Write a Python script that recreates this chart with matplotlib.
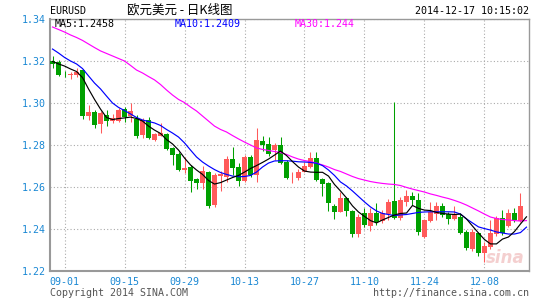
import matplotlib.pyplot as plt
import numpy as np
import pandas as pd

# EURUSD daily candles, 2014-08-28 .. 2014-12-17
opens = [1.3200, 1.3195, 1.3138, 1.3132, 1.3133, 1.3157, 1.2940, 1.2957, 1.2900, 1.2943,
         1.2916, 1.2916, 1.2970, 1.2940, 1.2924, 1.2848, 1.2919, 1.2824, 1.2844, 1.2852,
         1.2787, 1.2757, 1.2681, 1.2697, 1.2637, 1.2620, 1.2673, 1.2514, 1.2654, 1.2649,
         1.2733, 1.2694, 1.2629, 1.2743, 1.2657, 1.2819, 1.2803, 1.2776, 1.2800, 1.2720,
         1.2648, 1.2644, 1.2673, 1.2697, 1.2740, 1.2638, 1.2618, 1.2510, 1.2482, 1.2546,
         1.2486, 1.2375, 1.2478, 1.2416, 1.2478, 1.2438, 1.2470, 1.2533, 1.2451, 1.2530,
         1.2557, 1.2538, 1.2360, 1.2440, 1.2471, 1.2510, 1.2471, 1.2446, 1.2456, 1.2387,
         1.2303, 1.2380, 1.2287, 1.2314, 1.2374, 1.2451, 1.2414, 1.2478, 1.2440, 1.2513]
closes = [1.3186, 1.3133, 1.3136, 1.3140, 1.3150, 1.2940, 1.2959, 1.2895, 1.2952, 1.2916,
          1.2927, 1.2967, 1.2935, 1.2962, 1.2844, 1.2919, 1.2832, 1.2851, 1.2856, 1.2780,
          1.2752, 1.2681, 1.2692, 1.2629, 1.2620, 1.2676, 1.2510, 1.2657, 1.2663, 1.2733,
          1.2692, 1.2629, 1.2744, 1.2657, 1.2824, 1.2802, 1.2757, 1.2800, 1.2713, 1.2644,
          1.2650, 1.2673, 1.2701, 1.2740, 1.2633, 1.2613, 1.2522, 1.2482, 1.2549, 1.2486,
          1.2375, 1.2459, 1.2419, 1.2478, 1.2432, 1.2478, 1.2530, 1.2451, 1.2538, 1.2557,
          1.2538, 1.2387, 1.2443, 1.2482, 1.2510, 1.2467, 1.2446, 1.2471, 1.2380, 1.2308,
          1.2386, 1.2284, 1.2319, 1.2380, 1.2451, 1.2380, 1.2478, 1.2443, 1.2510, 1.2514]
highs = [1.3224, 1.3205, 1.3152, 1.3149, 1.3167, 1.3162, 1.2990, 1.2967, 1.2962, 1.2967,
         1.2948, 1.2976, 1.2982, 1.3000, 1.2943, 1.2930, 1.2933, 1.2857, 1.2903, 1.2857,
         1.2792, 1.2768, 1.2744, 1.2705, 1.2641, 1.2701, 1.2676, 1.2665, 1.2676, 1.2748,
         1.2792, 1.2713, 1.2752, 1.2752, 1.2882, 1.2843, 1.2840, 1.2811, 1.2840, 1.2729,
         1.2673, 1.2686, 1.2720, 1.2765, 1.2768, 1.2641, 1.2625, 1.2518, 1.2578, 1.2554,
         1.2490, 1.2470, 1.2499, 1.2499, 1.2522, 1.2490, 1.2543, 1.3003, 1.2551, 1.2586,
         1.2578, 1.2570, 1.2446, 1.2530, 1.2530, 1.2522, 1.2482, 1.2510, 1.2475, 1.2395,
         1.2400, 1.2387, 1.2340, 1.2443, 1.2462, 1.2490, 1.2494, 1.2499, 1.2570, 1.2515]
lows = [1.3167, 1.3129, 1.3124, 1.3113, 1.3124, 1.2924, 1.2919, 1.2881, 1.2857, 1.2890,
        1.2906, 1.2910, 1.2911, 1.2911, 1.2833, 1.2833, 1.2829, 1.2819, 1.2843, 1.2776,
        1.2705, 1.2676, 1.2665, 1.2575, 1.2590, 1.2590, 1.2501, 1.2506, 1.2582, 1.2622,
        1.2657, 1.2606, 1.2624, 1.2649, 1.2622, 1.2771, 1.2748, 1.2729, 1.2710, 1.2638,
        1.2618, 1.2633, 1.2671, 1.2690, 1.2629, 1.2559, 1.2486, 1.2448, 1.2481, 1.2463,
        1.2363, 1.2363, 1.2411, 1.2390, 1.2419, 1.2427, 1.2443, 1.2446, 1.2443, 1.2510,
        1.2514, 1.2371, 1.2356, 1.2435, 1.2443, 1.2459, 1.2424, 1.2443, 1.2376, 1.2300,
        1.2297, 1.2271, 1.2244, 1.2305, 1.2367, 1.2371, 1.2408, 1.2435, 1.2435, 1.2512]

ma5 = [1.3198, 1.3186, 1.3176, 1.3162, 1.3150, 1.3121, 1.3067, 1.3017, 1.2971, 1.2931,
       1.2921, 1.2926, 1.2929, 1.2933, 1.2926, 1.2914, 1.2890, 1.2871, 1.2855, 1.2826,
       1.2805, 1.2776, 1.2738, 1.2705, 1.2681, 1.2660, 1.2631, 1.2614, 1.2621, 1.2633,
       1.2645, 1.2655, 1.2671, 1.2688, 1.2702, 1.2717, 1.2733, 1.2752, 1.2771, 1.2750,
       1.2721, 1.2695, 1.2676, 1.2671, 1.2670, 1.2670, 1.2652, 1.2612, 1.2581, 1.2548,
       1.2510, 1.2481, 1.2460, 1.2440, 1.2429, 1.2443, 1.2455, 1.2467, 1.2474, 1.2476,
       1.2512, 1.2498, 1.2490, 1.2488, 1.2479, 1.2474, 1.2471, 1.2469, 1.2471, 1.2448,
       1.2414, 1.2381, 1.2350, 1.2329, 1.2329, 1.2352, 1.2362, 1.2388, 1.2424, 1.2458]
ma10 = [1.3257, 1.3238, 1.3217, 1.3200, 1.3186, 1.3164, 1.3129, 1.3095, 1.3067, 1.3033,
        1.3000, 1.2979, 1.2964, 1.2948, 1.2931, 1.2919, 1.2912, 1.2905, 1.2893, 1.2874,
        1.2857, 1.2838, 1.2810, 1.2776, 1.2743, 1.2719, 1.2700, 1.2683, 1.2669, 1.2660,
        1.2652, 1.2649, 1.2650, 1.2655, 1.2671, 1.2695, 1.2714, 1.2724, 1.2725, 1.2725,
        1.2723, 1.2720, 1.2719, 1.2717, 1.2713, 1.2702, 1.2681, 1.2655, 1.2624, 1.2605,
        1.2581, 1.2555, 1.2529, 1.2505, 1.2486, 1.2474, 1.2469, 1.2464, 1.2467, 1.2469,
        1.2474, 1.2479, 1.2481, 1.2482, 1.2482, 1.2482, 1.2482, 1.2481, 1.2471, 1.2448,
        1.2429, 1.2410, 1.2402, 1.2395, 1.2386, 1.2381, 1.2376, 1.2376, 1.2383, 1.2409]
ma30 = [1.3362, 1.3350, 1.3338, 1.3324, 1.3312, 1.3298, 1.3281, 1.3264, 1.3248, 1.3236,
        1.3224, 1.3212, 1.3200, 1.3179, 1.3157, 1.3143, 1.3126, 1.3110, 1.3088, 1.3062,
        1.3038, 1.3017, 1.3002, 1.2981, 1.2962, 1.2938, 1.2914, 1.2890, 1.2874, 1.2862,
        1.2845, 1.2829, 1.2814, 1.2800, 1.2786, 1.2779, 1.2774, 1.2769, 1.2764, 1.2755,
        1.2743, 1.2733, 1.2726, 1.2721, 1.2714, 1.2705, 1.2695, 1.2683, 1.2674, 1.2662,
        1.2650, 1.2640, 1.2633, 1.2626, 1.2621, 1.2617, 1.2614, 1.2612, 1.2607, 1.2598,
        1.2590, 1.2583, 1.2576, 1.2567, 1.2560, 1.2552, 1.2545, 1.2536, 1.2526, 1.2514,
        1.2500, 1.2486, 1.2471, 1.2457, 1.2450, 1.2445, 1.2443, 1.2440, 1.2438, 1.2440]

day_labels = pd.bdate_range("2014-08-28", "2014-12-17").strftime("%m-%d").tolist()
tick_days = ["09-01", "09-15", "09-29", "10-13", "10-27", "11-10", "11-24", "12-08"]
price_ticks = [1.22, 1.24, 1.26, 1.28, 1.30, 1.32, 1.34]

UP = "#ff5a5a"
DOWN = "#00a000"
BLUE_TXT = "#1a88d4"
MONO = "DejaVu Sans Mono"

fig = plt.figure(figsize=(5.45, 3.0), dpi=100)
ax = fig.add_axes([50 / 545, 29 / 300, 479 / 545, 252 / 300])

x = np.arange(len(opens))
o = np.array(opens)
c = np.array(closes)
colors = [UP if cc >= oo else DOWN for oo, cc in zip(o, c)]

ax.vlines(x, lows, highs, colors=colors, linewidth=0.75, zorder=3)
body_h = np.maximum(np.abs(c - o), 0.00012)
ax.bar(x, body_h, bottom=np.minimum(o, c), width=0.75, color=colors,
       linewidth=0, zorder=4)

ax.plot(x, ma30, color="#ff00ff", linewidth=0.85, zorder=5)
ax.plot(x, ma10, color="#0000ff", linewidth=0.85, zorder=5)
ax.plot(x, ma5, color="black", linewidth=0.85, zorder=5)

ax.set_xlim(-0.42, len(opens) - 1 + 0.42)
ax.set_ylim(1.22, 1.34)
ax.set_yticks(price_ticks)
ax.set_yticklabels([f"{v:.2f}" for v in price_ticks])
ax.set_xticks([day_labels.index(d) for d in tick_days])
ax.set_xticklabels(tick_days)
for lab in ax.get_xticklabels() + ax.get_yticklabels():
    lab.set_fontfamily(MONO)
ax.tick_params(length=0, labelsize=7.2, labelcolor=BLUE_TXT)
ax.tick_params(axis="y", pad=3)
ax.tick_params(axis="x", pad=4)
ax.grid(True, linestyle=(0, (1, 2)), color="#aaaaaa", linewidth=0.8, zorder=0)
ax.set_axisbelow(True)
for side, sp in ax.spines.items():
    sp.set_color("#999999")
    sp.set_linewidth(1.5 if side in ("left", "bottom") else 1.0)

# sina watermark
ax.text(0.99, 0.015, "sina", transform=ax.transAxes, ha="right", va="bottom",
        fontsize=12, fontweight="bold", style="italic", color="#f2c4c4",
        alpha=0.8, zorder=1)

# header / footer texts
fig.text(50 / 545, 1 - 11 / 300, "EURUSD", family=MONO, fontsize=7.2, va="center")
fig.text(180 / 545, 1 - 10 / 300, "欧元美元 - 日K线图",
         family=["Noto Sans CJK SC", "DejaVu Sans"], fontsize=9, ha="center",
         va="center")
fig.text(529 / 545, 1 - 11.5 / 300, "2014-12-17 10:15:02", family=MONO,
         fontsize=7.2, ha="right", va="center")
fig.text(55 / 545, 1 - 24 / 300, "MA5:1.2458", family=MONO, fontsize=7.2,
         va="center", color="black")
fig.text(175 / 545, 1 - 24 / 300, "MA10:1.2409", family=MONO, fontsize=7.2,
         va="center", color="#0000ff")
fig.text(295 / 545, 1 - 24 / 300, "MA30:1.244", family=MONO, fontsize=7.2,
         va="center", color="#ff00ff")
fig.text(50 / 545, 1 - 293 / 300, "Copyright 2014 SINA.COM", family=MONO,
         fontsize=7.2, va="center", color="#555555")
fig.text(529 / 545, 1 - 293 / 300, "http://finance.sina.com.cn", family=MONO,
         fontsize=7.2, ha="right", va="center", color="#555555")

fig.savefig("out.png", dpi=100)
